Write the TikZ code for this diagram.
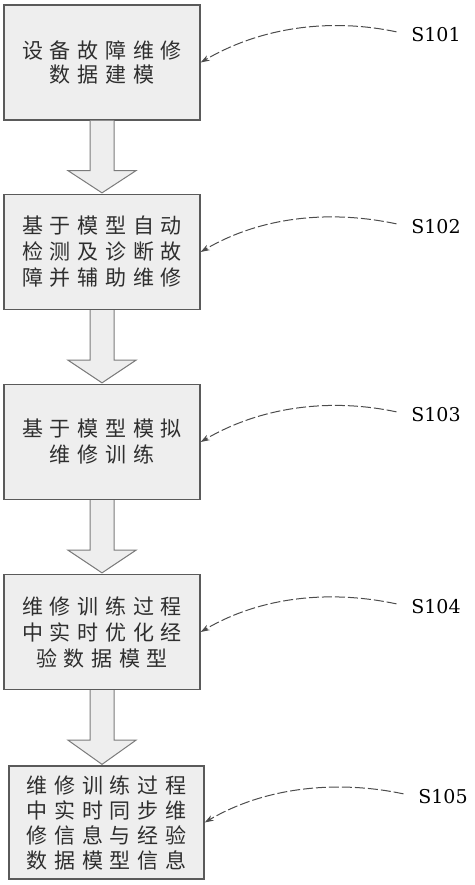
\documentclass[tikz,border=0pt]{standalone}
\usepackage{fontspec}
\setmainfont{DejaVu Serif}
\newfontfamily\cjk[LetterSpace=32]{Noto Sans CJK SC}
\usetikzlibrary{arrows.meta,calc}
\definecolor{boxfill}{HTML}{EEEEEE}
\definecolor{boxline}{HTML}{5A5A5A}
\definecolor{txt}{HTML}{2E2E2E}
\tikzset{
  box/.style={draw=boxline, line width=1.3pt, fill=boxfill, minimum width=196, minimum height=115,
    align=center, inner sep=0pt, text=txt, font=\cjk\fontsize{21}{26}\selectfont},
  barrow/.style={draw=boxline!80, line width=1pt, fill=boxfill},
  lab/.style={text=black, font=\fontsize{19}{22}\selectfont, inner sep=0pt},
  callout/.style={draw=black!70, line width=1pt, dash pattern=on 10pt off 3pt,
    shorten <=15pt, -{Stealth[length=9pt,width=6pt]}}
}
\newcommand\flowarrow[2]{%
  \draw[barrow] ($(#1.south)+(-12,0)$) -- ($(#1.south)+(-12,50)$) -- ($(#1.south)+(-34,50)$)
    -- ($(#1.south |- #2.north)+(0,-1)$) -- ($(#1.south)+(34,50)$) -- ($(#1.south)+(12,50)$)
    -- ($(#1.south)+(12,0)$);}
\begin{document}
\begin{tikzpicture}[x=1pt,y=-1pt]
\useasboundingbox (0,0) rectangle (474,885);
\node[box, font=\cjk\fontsize{21}{24}\selectfont] (b1) at (102,62.5) {设备故障维修\\数据建模};
\node[box] (b2) at (102,252) {基于模型自动\\检测及诊断故\\障并辅助维修};
\node[box] (b3) at (102,442) {基于模型模拟\\维修训练};
\node[box] (b4) at (102,632) {维修训练过程\\中实时优化经\\验数据模型};
\node[box, minimum width=195, minimum height=113, font=\cjk\fontsize{21}{25}\selectfont] (b5) at (106.5,822.5) {维修训练过程\\中实时同步维\\修信息与经验\\数据模型信息};
\flowarrow{b1}{b2}
\flowarrow{b2}{b3}
\flowarrow{b3}{b4}
\flowarrow{b4}{b5}
\node[lab] (s1) at (436,35) {S101};
\node[lab] (s2) at (436,227) {S102};
\node[lab] (s3) at (436,415) {S103};
\node[lab] (s4) at (436,607) {S104};
\node[lab] (s5) at (443,797) {S105};
\draw[callout] (s1.west) .. controls +(-75,-16) and +(65,-38) .. (b1.east);
\draw[callout] (s2.west) .. controls +(-75,-16) and +(65,-38) .. (b2.east);
\draw[callout] (s3.west) .. controls +(-75,-16) and +(65,-38) .. (b3.east);
\draw[callout] (s4.west) .. controls +(-75,-16) and +(65,-38) .. (b4.east);
\draw[callout] (s5.west) .. controls +(-75,-16) and +(65,-38) .. (b5.east);
\end{tikzpicture}
\end{document}
